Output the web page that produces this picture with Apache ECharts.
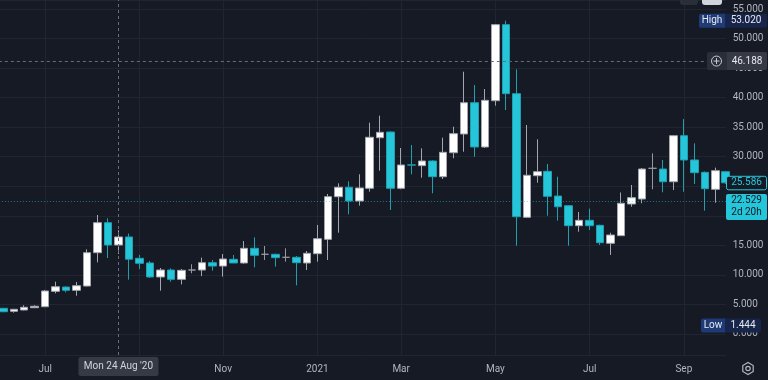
<!DOCTYPE html>
<html><head><meta charset="utf-8">
<script src="https://cdn.jsdelivr.net/npm/echarts@6/dist/echarts.min.js"></script>
<style>html,body{margin:0;padding:0;background:#161a25;overflow:hidden}#c{width:768px;height:380px}</style>
</head><body><div id="c"></div>
<script>
// Weekly candles (week start dates)
const weeks = ['2020-06-01','2020-06-08','2020-06-15','2020-06-22','2020-06-29','2020-07-06','2020-07-13','2020-07-20','2020-07-27','2020-08-03','2020-08-10','2020-08-17','2020-08-24','2020-08-31','2020-09-07','2020-09-14','2020-09-21','2020-09-28','2020-10-05','2020-10-12','2020-10-19','2020-10-26','2020-11-02','2020-11-09','2020-11-16','2020-11-23','2020-11-30','2020-12-07','2020-12-14','2020-12-21','2020-12-28','2021-01-04','2021-01-11','2021-01-18','2021-01-25','2021-02-01','2021-02-08','2021-02-15','2021-02-22','2021-03-01','2021-03-08','2021-03-15','2021-03-22','2021-03-29','2021-04-05','2021-04-12','2021-04-19','2021-04-26','2021-05-03','2021-05-10','2021-05-17','2021-05-24','2021-05-31','2021-06-07','2021-06-14','2021-06-21','2021-06-28','2021-07-05','2021-07-12','2021-07-19','2021-07-26','2021-08-02','2021-08-09','2021-08-16','2021-08-23','2021-08-30','2021-09-06','2021-09-13','2021-09-20','2021-09-27','2021-10-04'];
const openVals  = [null,4.35,3.84,4.06,4.45,4.62,7.22,7.95,7.39,8.12,13.76,18.84,15.06,16.42,12.81,12.02,9.65,10.83,9.25,10.83,10.83,12.07,11.5,12.64,12.02,14.5,13.49,13.49,12.98,12.98,12.02,13.59,16.02,23.24,24.83,22.51,24.66,33.22,34.18,24.66,28.62,28.49,29.28,26.62,30.68,33.85,39.14,31.65,39.48,52.35,40.67,19.75,26.79,27.53,23.35,21.71,18.33,19.24,18.39,15.35,16.64,22.0,22.85,28.04,27.92,25.77,33.56,29.45,27.36,24.49,27.47];
const closeVals = [null,3.77,4.18,4.52,4.69,7.28,8.0,7.39,8.17,13.76,18.84,15.06,16.42,12.66,11.96,9.65,10.83,9.25,10.78,10.83,12.07,11.5,12.69,12.02,14.5,13.32,13.49,12.92,12.98,12.07,13.66,16.13,23.24,24.83,22.51,24.71,33.29,34.13,24.66,28.6,28.58,29.28,26.62,30.75,33.9,39.14,31.65,39.55,52.35,40.67,19.85,26.86,27.47,23.3,21.54,18.33,19.24,18.33,15.45,16.75,22.12,23.07,27.92,28.04,25.77,33.56,29.45,27.3,24.59,27.64,25.586];
const lowVals   = [null,3.7,3.6,4.0,4.4,4.55,6.88,7.05,6.48,8.05,12.13,12.86,13.55,9.2,11.0,9.5,7.33,8.85,8.4,10.27,9.8,10.72,9.7,12.0,11.9,11.29,12.52,11.4,12.24,8.24,10.83,12.24,12.52,17.14,20.26,21.72,24.08,27.64,20.98,24.5,27.03,26.45,23.81,26.23,29.73,30.85,30.0,31.5,38.64,37.9,14.94,19.7,25.6,20.02,19.18,14.94,17.31,17.6,15.06,13.37,16.6,21.54,22.12,24.49,23.98,24.37,24.08,25.38,20.87,22.22,25.4];
const highVals  = [null,4.4,4.25,4.86,4.86,7.45,8.85,8.05,8.8,14.33,20.14,19.58,17.55,17.0,13.37,12.35,11.17,11.1,11.0,11.8,12.92,12.52,13.54,13.37,15.74,16.36,14.89,13.6,14.5,13.2,14.05,18.45,23.7,25.5,25.84,27.03,35.76,36.94,34.3,31.48,31.98,31.42,29.4,33.22,35.08,44.39,42.14,41.46,52.45,53.02,44.8,35.37,32.95,28.77,26.62,21.8,20.65,21.21,18.5,17.14,23.95,25.22,28.1,30.58,29.45,33.6,36.38,32.27,27.5,28.15,27.6];
const tickLabels = {'2020-07-06':'Jul','2020-09-07':'Sep','2020-11-02':'Nov','2021-01-04':'2021','2021-03-01':'Mar','2021-05-03':'May','2021-07-05':'Jul','2021-09-06':'Sep'};
const crosshairWeek = '2020-08-24', crosshairWeekText = "Mon 24 Aug '20", crosshairPrice = 46.188;
const highPrice = 53.02, lowPrice = 1.444, prevClose = 25.586, livePrice = 22.529, countdown = '2d 20h';

const chart = echarts.init(document.getElementById('c'));
const ohlc = weeks.map((w,i)=> openVals[i]==null ? '-' : [openVals[i], closeVals[i], lowVals[i], highVals[i]]);
const labelIdx = new Set(weeks.map((w,i)=> tickLabels[w] ? i : -1).filter(i=>i>=0));
const TXT = '#b2b5be', GRID = '#212531', FONT = 'Roboto';
chart.setOption({
  backgroundColor:'#161a25',
  animation:false,
  grid:{left:-7.17, width:732.9, top:0, bottom:25, outerBoundsMode:'none', containLabel:false},
  xAxis:{type:'category', data:weeks, boundaryGap:false,
    axisLine:{show:false}, axisTick:{show:false},
    axisLabel:{interval:(i)=>labelIdx.has(i), formatter:(v)=>tickLabels[v]||'', color:TXT, fontFamily:FONT, fontSize:10, margin:9},
    splitLine:{show:true, interval:(i)=>labelIdx.has(i), lineStyle:{color:GRID, width:1}}},
  yAxis:{type:'value', position:'right', min:-3.554, max:56.524, splitNumber:12,
    axisLine:{show:false}, axisTick:{show:false},
    axisLabel:{formatter:(v)=>v.toFixed(3), showMinLabel:false, showMaxLabel:false, margin:7, color:TXT, fontFamily:FONT, fontSize:10, align:'left'},
    splitLine:{show:true, lineStyle:{color:GRID, width:1}}},
  series:[{type:'candlestick', data:ohlc, barWidth:8, clip:true,
    itemStyle:{color:'#ffffff', color0:'#26c6da', borderColor:'#a3a6af', borderColor0:'#1f9fb0', borderColorDoji:'#9598a1', borderWidth:1},
    markLine:{silent:true, symbol:'none', animation:false, label:{show:false}, emphasis:{disabled:true},
      data:[
        {yAxis: livePrice, lineStyle:{color:'#26c6da', type:[1,2], opacity:0.55, width:1}},
        {yAxis: crosshairPrice, lineStyle:{color:'#6a6d78', type:[3,3], width:1}},
        {xAxis: crosshairWeek, lineStyle:{color:'#6a6d78', type:[3,3], width:1}}
      ]}
  }]
});

function yPix(v){ return chart.convertToPixel({yAxisIndex:0}, v); }
function txt(x,y,t,fill,align){ return {type:'text', z:102, style:{text:t, x:x, y:y, fill:fill, font:'10px '+FONT, textAlign:align||'center', textVerticalAlign:'middle', align:align||'center', verticalAlign:'middle'}}; }
function rect(x,y,w,h,fill,r,stroke){ return {type:'rect', z:100, shape:{x:x,y:y,width:w,height:h,r:r||0}, style:{fill:fill, stroke:stroke||null, lineWidth:stroke?1:0}}; }
const els = [];
// High / Low tags
let y = yPix(highPrice);
els.push(rect(699, y-7, 26, 14, '#1f3b77', [2,0,0,2]), rect(725, y-7, 42, 14, '#17254a', [0,2,2,0]));
els.push(txt(712, y, 'High', '#e6e8ee'), txt(746, y, highPrice.toFixed(3), '#e6e8ee'));
y = yPix(lowPrice);
els.push(rect(701, y-7, 24, 14, '#1f3b77', [2,0,0,2]), rect(725, y-7, 36, 14, '#17254a', [0,2,2,0]));
els.push(txt(713, y, 'Low', '#e6e8ee'), txt(743, y, lowPrice.toFixed(3), '#e6e8ee'));
// previous close outlined tag
y = yPix(prevClose);
els.push(rect(726.5, y-6.5, 40, 13.5, '#161a25', 2, '#26c6da'), txt(746.5, y, prevClose.toFixed(3), '#26c6da'));
// live price tag with countdown
y = yPix(livePrice);
els.push(rect(726, y-7, 41, 26, '#26c6da', 2), txt(746.5, y, livePrice.toFixed(3), '#131722'), txt(746.5, y+12, countdown, '#131722'));
// crosshair price tag
y = yPix(crosshairPrice);
els.push(rect(707, y-9, 20, 18, '#2a2e39', [2,0,0,2]), rect(727, y-9, 40, 18, '#363a45', [0,2,2,0]));
els.push({type:'circle', z:102, shape:{cx:716.5, cy:y, r:5}, style:{fill:null, stroke:'#c8cad0', lineWidth:1}});
els.push({type:'line', z:102, shape:{x1:713.5, y1:y, x2:719.5, y2:y}, style:{stroke:'#c8cad0', lineWidth:1}});
els.push({type:'line', z:102, shape:{x1:716.5, y1:y-3, x2:716.5, y2:y+3}, style:{stroke:'#c8cad0', lineWidth:1}});
els.push(txt(747, y, crosshairPrice.toFixed(3), '#e6e8ee'));
// crosshair date tag
const cx = chart.convertToPixel({xAxisIndex:0}, crosshairWeek);
els.push(rect(cx-40, 357, 80, 19, '#363a45', 2), txt(cx, 366.5, crosshairWeekText, '#d1d4dc'));
// top-right partial toolbar buttons
els.push(rect(680, -5, 18, 10, '#2a2e39', 3), rect(702, -5, 20, 10, '#d1d4dc', 3));
// gear icon
const gx = 748, gy = 368.5, pts = [];
for (let i=0;i<6;i++){ const a = Math.PI/6 + i*Math.PI/3; pts.push([gx+6*Math.cos(a), gy+6*Math.sin(a)]); }
els.push({type:'polygon', z:102, shape:{points:pts}, style:{fill:null, stroke:TXT, lineWidth:1.2}});
els.push({type:'circle', z:102, shape:{cx:gx, cy:gy, r:2.2}, style:{fill:null, stroke:TXT, lineWidth:1.2}});
chart.setOption({graphic:{elements:els}});
</script>
</body></html>
